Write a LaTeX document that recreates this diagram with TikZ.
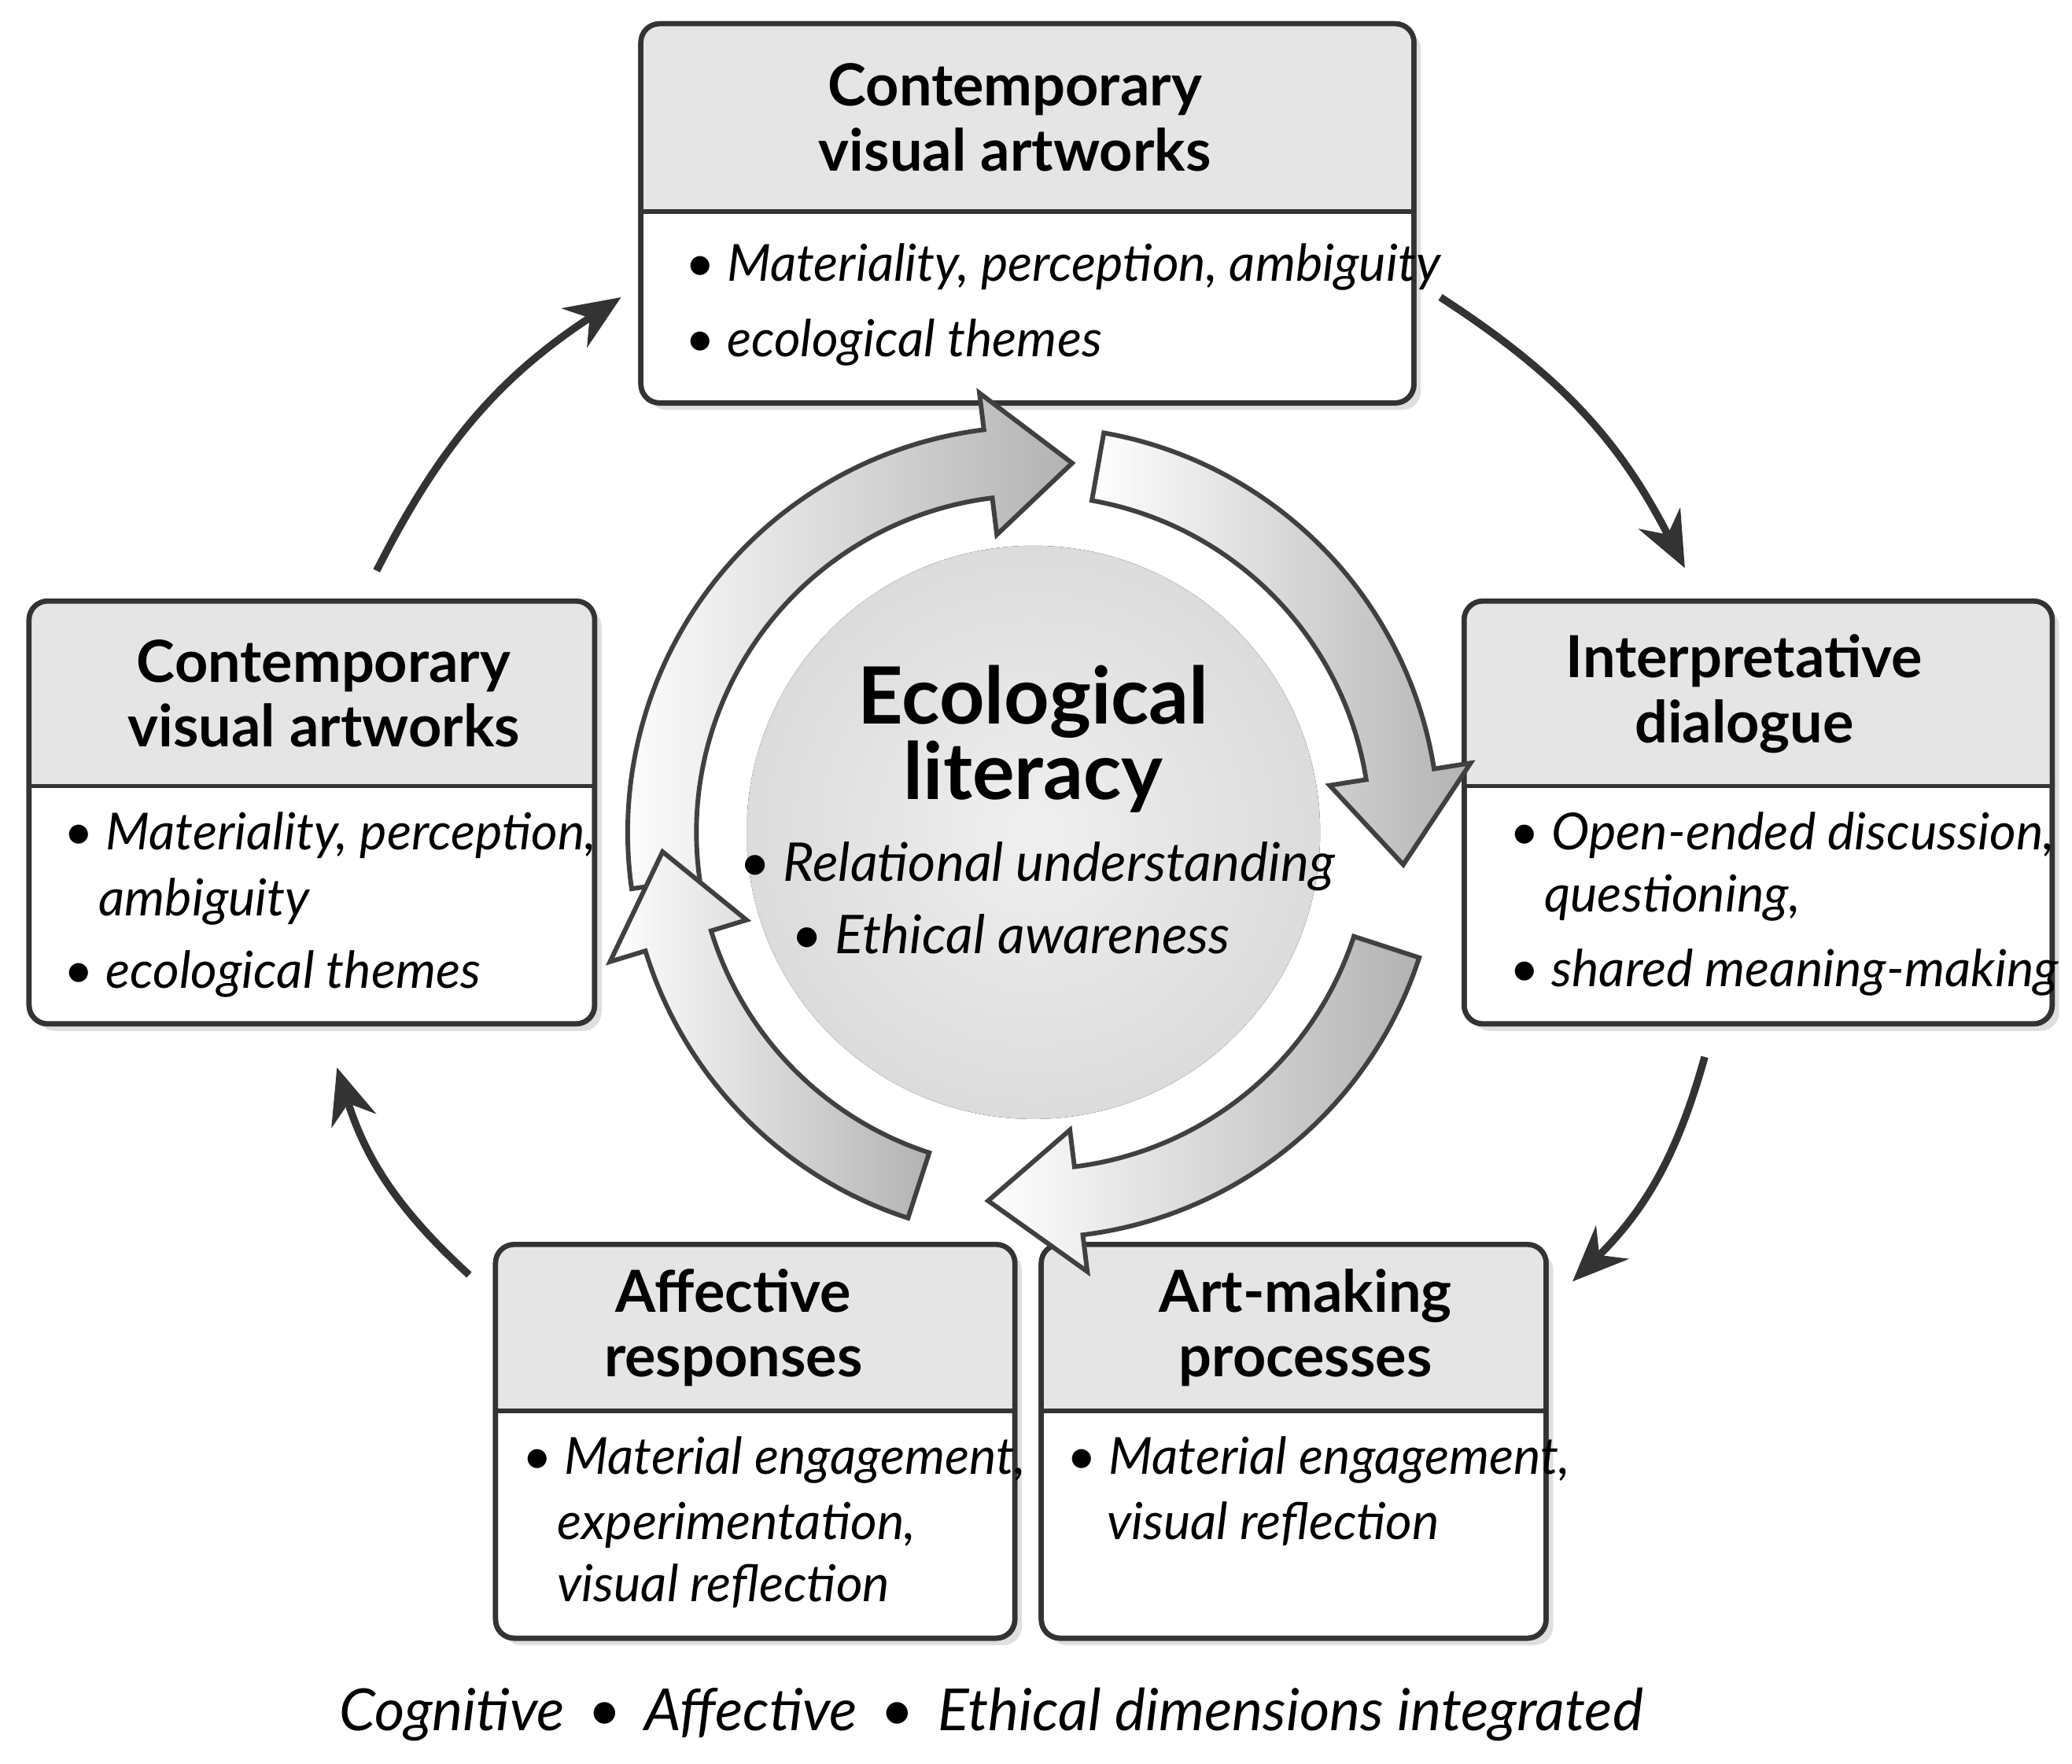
\documentclass[tikz,border=0pt]{standalone}
\usepackage{fontspec}
\setmainfont{Lato}
\usetikzlibrary{shadows,arrows.meta}
\begin{document}
\begin{tikzpicture}[
  box/.style={draw=black!80,line width=1.1pt,rounded corners=4pt,fill=white,drop shadow={opacity=0.25,shadow xshift=1.5pt,shadow yshift=-1.5pt}},
  hdr/.style={fill=black!10},
  title/.style={font=\fontsize{12.5}{14}\selectfont\bfseries,align=center},
  item/.style={font=\fontsize{11}{14}\selectfont\itshape,anchor=base west,align=left,inner sep=0pt},
  flow/.style={-{Stealth[length=12pt,width=10pt]},line width=1.6pt,draw=black!80},
  ringA/.style={draw=black!75,line width=1pt,shading angle=#1,left color=white,right color=black!30}
]
\useasboundingbox (0,0) rectangle (15.68,13.35);
\newcommand\mybox[6]{% name, x1,y1,x2,y2,div
  \path[box] (#2,#3) rectangle (#4,#5);
  \begin{scope}
  \clip[rounded corners=4pt] (#2,#3) rectangle (#4,#5);
  \fill[hdr] (#2,#3) rectangle (#4,#6);
  \end{scope}
  \draw[black!80,line width=1.1pt,rounded corners=4pt] (#2,#3) rectangle (#4,#5);
  \draw[black!80,line width=1pt] (#2,#6) -- (#4,#6);
  \coordinate (#1) at ({(#2+#4)/2},{(#3+#5)/2});}
\mybox{top}{4.85}{13.17}{10.70}{10.30}{11.75}
\mybox{left}{0.22}{8.80}{4.50}{5.60}{7.40}
\mybox{right}{11.08}{8.80}{15.53}{5.60}{7.40}
\mybox{bl}{3.75}{3.93}{7.68}{0.95}{2.67}
\mybox{br}{7.88}{3.93}{11.70}{0.95}{2.67}

\node[title] (t1) at (7.68,12.46) {Contemporary\\visual artworks};
\node[item] (t1a) at (5.18,11.22) {• Materiality, perception, ambiguity};
\node[item] (t1b) at (5.18,10.65) {• ecological themes};

\node[title] (t2) at (2.45,8.10) {Contemporary\\visual artworks};
\node[item] (t2a) at (0.48,6.92) {• Materiality, perception,};
\node[item] (t2c) at (0.74,6.42) {ambiguity};
\node[item] (t2b) at (0.48,5.87) {• ecological themes};

\node[title] (t3) at (13.20,8.10) {Interpretative\\dialogue};
\node[item] (t3a) at (11.42,6.92) {• Open-ended discussion,};
\node[item] (t3c) at (11.68,6.45) {questioning,};
\node[item] (t3b) at (11.42,5.88) {• shared meaning-making};

\node[title] (t4) at (5.55,3.30) {Affective\\responses};
\node[item] (t4a) at (3.95,2.19) {• Material engagement,};
\node[item] (t4b) at (4.21,1.70) {experimentation,};
\node[item] (t4c) at (4.21,1.23) {visual reflection};

\node[title] (t5) at (9.88,3.30) {Art-making\\processes};
\node[item] (t5a) at (8.07,2.19) {• Material engagement,};
\node[item] (t5b) at (8.37,1.70) {visual reflection};

% centre
\coordinate (C) at (7.82,7.05);
\fill[inner color=black!6,outer color=black!14] (C) circle (2.17);
\newcommand\ringarrow[4]{%
  \filldraw[ringA=#4] ([shift={(#1:3.07)}]C) arc[start angle=#1,end angle=#2,radius=3.07cm]
   -- ([shift={(#2:3.35)}]C) -- ([shift={(#3:2.81)}]C) -- ([shift={(#2:2.27)}]C)
   -- ([shift={(#2:2.55)}]C) arc[start angle=#2,end angle=#1,radius=2.55cm] -- cycle;}
\ringarrow{188}{97}{84}{0}
\ringarrow{80}{9}{-5}{-60}
\ringarrow{-18}{-83}{-97}{-160}
\ringarrow{-108}{-163}{-177}{90}
\node[font=\fontsize{17}{20}\selectfont\bfseries,align=center,anchor=base] (eco) at (7.82,7.87) {Ecological};
\node[font=\fontsize{17}{20}\selectfont\bfseries,anchor=base] (eco2) at (7.82,7.30) {literacy};
\node[font=\fontsize{11.5}{14}\selectfont\itshape,anchor=base] (e1) at (7.85,6.68) {• Relational understanding};
\node[font=\fontsize{11.5}{14}\selectfont\itshape,anchor=base] (e2) at (7.65,6.13) {• Ethical awareness};

% outer arrows
\coordinate (a1) at (2.85,9.03); \coordinate (a2) at (4.70,11.10);
\coordinate (b1) at (10.90,11.10); \coordinate (b2) at (12.75,9.05);
\coordinate (c1) at (12.90,5.35); \coordinate (c2) at (11.90,3.65);
\coordinate (d1) at (3.55,3.70); \coordinate (d2) at (2.55,5.27);
\draw[flow] (a1) to[bend left=15] (a2);
\draw[flow] (b1) to[bend left=15] (b2);
\draw[flow] (c1) to[bend left=15] (c2);
\draw[flow] (d1) to[bend left=15] (d2);

\node[font=\fontsize{12.5}{15}\selectfont\itshape,anchor=base] (cap) at (7.50,0.25) {Cognitive \,•\, Affective \,•\, Ethical dimensions integrated};
\end{tikzpicture}
\end{document}
